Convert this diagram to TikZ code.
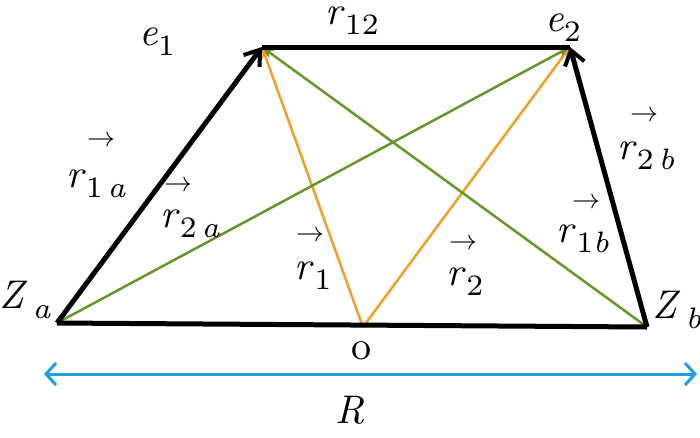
\documentclass[tikz,border=0pt]{standalone}
\usetikzlibrary{arrows.meta}
\definecolor{vorange}{RGB}{240,160,40}
\definecolor{vgreen}{RGB}{100,150,40}
\definecolor{vblue}{RGB}{30,160,220}
\newcommand{\vsub}[2]{\scalebox{4}{\textit{#1}\raisebox{-0.25em}{\fontsize{7.4}{8}\selectfont #2}}}
\newcommand{\vbig}[1]{\scalebox{4}{#1}}
\newcommand{\varr}{\scalebox{2.8}{$\rightarrow$}}
\begin{document}
\begin{tikzpicture}[x=1pt,y=-1pt,
  lab/.style={inner sep=0pt,font=\fontsize{10}{12}\selectfont},
  blackvec/.style={line width=5pt,black,-{Straight Barb[length=14pt,width=20pt,line width=4pt]}},
  blackline/.style={line width=5pt,black},
  orangevec/.style={line width=2.5pt,vorange,-{Stealth[length=12pt,width=9pt]}},
  greenvec/.style={line width=2.5pt,vgreen,-{Stealth[length=12pt,width=9pt]}},
  bluearrow/.style={line width=3pt,vblue,{Straight Barb[length=10pt,width=22pt,line width=3pt]}-{Straight Barb[length=10pt,width=22pt,line width=3pt]}}]
\useasboundingbox (0,0) rectangle (700,437);
\coordinate (Za) at (57,323);
\coordinate (Zb) at (647,327);
\coordinate (e1) at (262,47);
\coordinate (e2) at (570,47);
\coordinate (O) at (363,327);
\coordinate (Rl) at (44,374);
\coordinate (Rr) at (697,374);
% colored vectors
\draw[orangevec] (O) -- (e1);
\draw[orangevec] (O) -- (e2);
\draw[greenvec] (Za) -- (e2);
\draw[greenvec] (Zb) -- (e1);
% black frame
\draw[blackline] (Za) -- (Zb);
\draw[blackline] (e1) -- (e2);
\draw[blackvec] (Za) -- (e1);
\draw[blackvec] (Zb) -- (e2);
% R arrow
\draw[bluearrow] (Rl) -- (Rr);
% labels
\node[lab] (le1) at (157,42) {\vsub{e}{1}};
\node[lab] (le2) at (563,28) {\vsub{e}{2}};
\node[lab] (lr12) at (352,21) {\vsub{r}{12}};
\node[lab] (lZa) at (25,300) {\vsub{Z}{\,\textit{a}}};
\node[lab] (lZb) at (677,310) {\vsub{Z}{\,\textit{b}}};
\node[lab] (lO) at (361,351) {\vbig{o}};
\node[lab] (lR) at (350,410) {\vbig{\textit{R}}};
\node[lab] (lr1a) at (96,184) {\vsub{r}{1\,\textit{a}}};
\node[lab] (ar1a) at (101,141) {\varr};
\node[lab] (lr2a) at (190,224) {\vsub{r}{2\,\textit{a}}};
\node[lab] (ar2a) at (178,186) {\varr};
\node[lab] (lr2b) at (646,156) {\vsub{r}{2\,\textit{b}}};
\node[lab] (ar2b) at (644,116) {\varr};
\node[lab] (lr1b) at (583,239) {\vsub{r}{1\textit{b}}};
\node[lab] (ar1b) at (586,203) {\varr};
\node[lab] (lr1) at (313,276) {\vsub{r}{1}};
\node[lab] (ar1) at (310,236) {\varr};
\node[lab] (lr2) at (465,282) {\vsub{r}{2}};
\node[lab] (ar2) at (463,244) {\varr};
\end{tikzpicture}
\end{document}
